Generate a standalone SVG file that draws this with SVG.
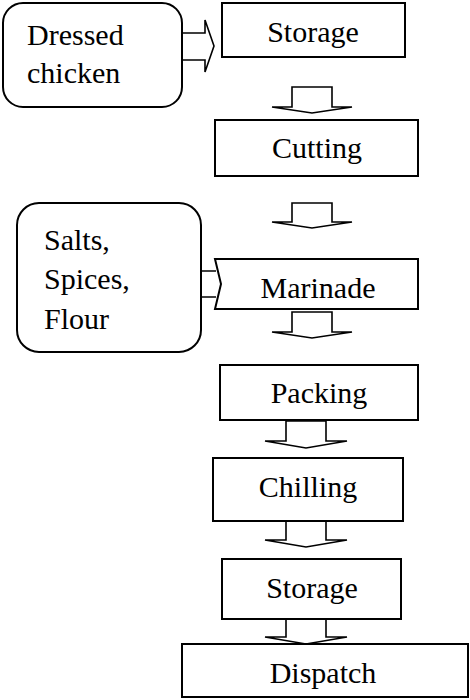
<svg xmlns="http://www.w3.org/2000/svg" width="470" height="700" viewBox="0 0 470 700">
<style>
.box{fill:#fff;stroke:#000;stroke-width:2}
.arr{fill:#fff;stroke:#000;stroke-width:1.6;stroke-linejoin:miter}
text{font-family:"Liberation Serif","Times New Roman",serif;font-size:30px;fill:#000}
.c{text-anchor:middle}
</style>
<rect width="470" height="700" fill="#fff"/>
<g id="connectors">
<path class="arr" d="M182,33 L205,33 L205,20 L214,46 L205,72 L205,60 L182,60"/>
<path class="arr" d="M292,87 L332,87 L332,107 L352,107 L312,113 L272,107 L292,107 Z"/>
<path class="arr" d="M292,203 L332,203 L332,222 L352,222 L312,228 L272,222 L292,222 Z"/>
<path class="arr" d="M201,271 L216,271 M201,297 L216,297"/>
<path class="arr" d="M292,312 L332,312 L332,332 L352,332 L312,338 L272,332 L292,332 Z"/>
<path class="arr" d="M286,421 L326,421 L326,441 L347,441 L306,448 L265,441 L286,441 Z"/>
<path class="arr" d="M286,521 L326,521 L326,540 L347,540 L306,547 L265,540 L286,540 Z"/>
<path class="arr" d="M286,619 L326,619 L326,637 L347,637 L306,644 L265,637 L286,637 Z"/>
</g>
<g id="dressed-chicken">
<rect class="box" x="3" y="3" width="179" height="104" rx="20"/>
<text x="27" y="45">Dressed</text>
<text x="27" y="83">chicken</text>
</g>
<g id="storage1">
<rect class="box" x="222" y="3" width="183" height="54"/>
<text class="c" x="313" y="42">Storage</text>
</g>
<g id="cutting">
<rect class="box" x="215" y="120" width="203" height="56"/>
<text class="c" x="317" y="158">Cutting</text>
</g>
<g id="salts">
<rect class="box" x="17" y="203" width="184" height="149" rx="22"/>
<text x="44" y="250">Salts,</text>
<text x="44" y="289">Spices,</text>
<text x="44" y="329">Flour</text>
</g>
<g id="marinade">
<path class="box" d="M215,259 L418,259 L418,309 L215,309 L221,284 Z"/>
<text class="c" x="318" y="298">Marinade</text>
</g>
<g id="packing">
<rect class="box" x="220" y="365" width="198" height="55"/>
<text class="c" x="319" y="403">Packing</text>
</g>
<g id="chilling">
<rect class="box" x="213" y="458" width="190" height="63"/>
<text class="c" x="308" y="497">Chilling</text>
</g>
<g id="storage2">
<rect class="box" x="222" y="559" width="179" height="60"/>
<text class="c" x="312" y="598">Storage</text>
</g>
<g id="dispatch">
<rect class="box" x="182" y="644" width="286" height="53"/>
<text class="c" x="323" y="683">Dispatch</text>
</g>
</svg>
